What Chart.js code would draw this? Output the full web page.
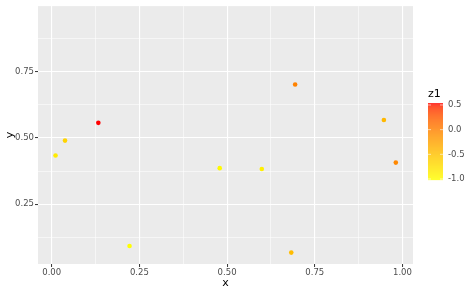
<!DOCTYPE html>
<html>
<head>
<meta charset="utf-8">
<script src="https://cdn.jsdelivr.net/npm/chart.js@4"></script>
<style>
    body { margin: 0; background: #ffffff; }
    canvas { display: block; }
</style>
</head>
<body>
<canvas id="scatterChart" width="474" height="293"></canvas>
<script>
// data
const xValues = [0.011, 0.038, 0.133, 0.222, 0.479, 0.599, 0.694, 0.683, 0.947, 0.981];
const yValues = [0.434, 0.490, 0.557, 0.092, 0.386, 0.383, 0.702, 0.067, 0.568, 0.407];
const z1Values = [-0.85, -0.65, 0.54, -1.02, -0.98, -0.88, 0.0, -0.45, -0.42, -0.05];
const xTickValues = [0, 0.25, 0.5, 0.75, 1];
const yTickValues = [0.25, 0.5, 0.75];
const colorbarTicks = [0.5, 0.0, -0.5, -1.0];

const zMin = Math.min(...z1Values);
const zMax = Math.max(...z1Values);

// yellow -> red, interpolated in CIELAB like ggplot's gradient
function toLin(c) { c /= 255; return c <= 0.04045 ? c / 12.92 : Math.pow((c + 0.055) / 1.055, 2.4); }
function toSrgb(c) {
    c = c <= 0.0031308 ? 12.92 * c : 1.055 * Math.pow(c, 1 / 2.4) - 0.055;
    return Math.round(Math.max(0, Math.min(1, c)) * 255);
}
function f(t) { return t > 0.008856 ? Math.cbrt(t) : 7.787 * t + 16 / 116; }
function finv(t) { const t3 = t * t * t; return t3 > 0.008856 ? t3 : (t - 16 / 116) / 7.787; }
function toLab(rgb) {
    const r = toLin(rgb[0]), g = toLin(rgb[1]), b = toLin(rgb[2]);
    const X = (0.4124 * r + 0.3576 * g + 0.1805 * b) / 0.95047;
    const Y = 0.2126 * r + 0.7152 * g + 0.0722 * b;
    const Z = (0.0193 * r + 0.1192 * g + 0.9505 * b) / 1.08883;
    const fx = f(X), fy = f(Y), fz = f(Z);
    return [116 * fy - 16, 500 * (fx - fy), 200 * (fy - fz)];
}
function fromLab(lab) {
    const fy = (lab[0] + 16) / 116, fx = fy + lab[1] / 500, fz = fy - lab[2] / 200;
    const X = finv(fx) * 0.95047, Y = finv(fy), Z = finv(fz) * 1.08883;
    const r = 3.2406 * X - 1.5372 * Y - 0.4986 * Z;
    const g = -0.9689 * X + 1.8758 * Y + 0.0415 * Z;
    const b = 0.0557 * X - 0.2040 * Y + 1.0570 * Z;
    return `rgb(${toSrgb(r)},${toSrgb(g)},${toSrgb(b)})`;
}
const lowLab = toLab([255, 255, 0]);
const highLab = toLab([255, 0, 0]);
function zColor(z) {
    const t = (z - zMin) / (zMax - zMin);
    return fromLab(lowLab.map((v, i) => v + (highLab[i] - v) * t));
}

const points = xValues.map((x, i) => ({ x: x, y: yValues[i] }));
const pointColors = z1Values.map(zColor);

function quarterTicks(scale) {
    const ticks = [];
    for (let k = -8; k <= 16; k++) {
        const v = k / 8;
        if (v >= scale.min && v <= scale.max) ticks.push({ value: v });
    }
    scale.ticks = ticks;
}

function gridOptions(majors) {
    return {
        color: '#ffffff',
        lineWidth: ctx => (ctx.tick && majors.includes(ctx.tick.value) ? 1.1 : 0.55),
        tickColor: ctx => (ctx.tick && majors.includes(ctx.tick.value) ? '#333333' : 'rgba(0,0,0,0)'),
        tickWidth: 1,
        tickLength: 3,
        drawTicks: true
    };
}

const panelBackground = {
    id: 'panelBackground',
    beforeDraw(chart) {
        const { ctx, chartArea } = chart;
        ctx.save();
        ctx.fillStyle = '#EBEBEB';
        ctx.fillRect(chartArea.left, chartArea.top, chartArea.right - chartArea.left, chartArea.bottom - chartArea.top);
        ctx.restore();
    }
};

// colour bar legend for z1
const colorBar = {
    id: 'colorBar',
    afterDraw(chart) {
        const ctx = chart.ctx;
        const left = 428, width = 15, top = 103, bottom = 180;
        const zToY = z => bottom - (z - zMin) / (zMax - zMin) * (bottom - top);
        ctx.save();
        for (let y = top; y < bottom; y += 0.5) {
            const z = zMin + (bottom - y) / (bottom - top) * (zMax - zMin);
            ctx.fillStyle = zColor(Math.max(zMin, Math.min(zMax, z)));
            ctx.fillRect(left, y, width, 0.6);
        }
        ctx.strokeStyle = '#ffffff';
        ctx.lineWidth = 0.6;
        ctx.fillStyle = '#4D4D4D';
        ctx.font = '8.5px "DejaVu Sans"';
        ctx.textAlign = 'left';
        ctx.textBaseline = 'middle';
        colorbarTicks.forEach(z => {
            const y = zToY(z);
            ctx.beginPath();
            ctx.moveTo(left, y); ctx.lineTo(left + 3, y);
            ctx.moveTo(left + width - 3, y); ctx.lineTo(left + width, y);
            ctx.stroke();
            ctx.fillText(z.toFixed(1), left + width + 5, y);
        });
        ctx.fillStyle = '#000000';
        ctx.font = '11px "DejaVu Sans"';
        ctx.fillText('z1', left, 94);
        ctx.restore();
    }
};

new Chart(document.getElementById('scatterChart'), {
    type: 'scatter',
    data: {
        datasets: [{
            label: 'z1',
            data: points,
            backgroundColor: pointColors,
            borderWidth: 0,
            pointRadius: 2.3
        }]
    },
    options: {
        responsive: false,
        animation: false,
        devicePixelRatio: 1,
        layout: { padding: { left: 0, top: 5, right: 61, bottom: 0 } },
        plugins: {
            legend: { display: false },
            tooltip: { enabled: false }
        },
        scales: {
            x: {
                type: 'linear',
                min: -0.039,
                max: 1.03,
                afterBuildTicks: quarterTicks,
                afterFit: scale => { scale.height = 29; },
                border: { display: false },
                grid: gridOptions(xTickValues),
                ticks: {
                    autoSkip: false,
                    maxRotation: 0,
                    padding: 1,
                    color: '#4D4D4D',
                    font: { family: 'DejaVu Sans', size: 8.5 },
                    callback: v => (xTickValues.includes(v) ? v.toFixed(2) : '')
                },
                title: {
                    display: true,
                    text: 'x',
                    color: '#000000',
                    padding: { top: 0, bottom: 3 },
                    font: { family: 'DejaVu Sans', size: 11, lineHeight: 1.2 }
                }
            },
            y: {
                type: 'linear',
                min: 0.024,
                max: 0.998,
                afterBuildTicks: quarterTicks,
                afterFit: scale => { scale.width = 38; },
                border: { display: false },
                grid: gridOptions(yTickValues),
                ticks: {
                    autoSkip: false,
                    padding: 1,
                    color: '#4D4D4D',
                    font: { family: 'DejaVu Sans', size: 8.5 },
                    callback: v => (yTickValues.includes(v) ? v.toFixed(2) : '')
                },
                title: {
                    display: true,
                    text: 'y',
                    color: '#000000',
                    padding: { top: 3.5, bottom: 0 },
                    font: { family: 'DejaVu Sans', size: 11, lineHeight: 1.2 }
                }
            }
        }
    },
    plugins: [panelBackground, colorBar]
});
</script>
</body>
</html>
